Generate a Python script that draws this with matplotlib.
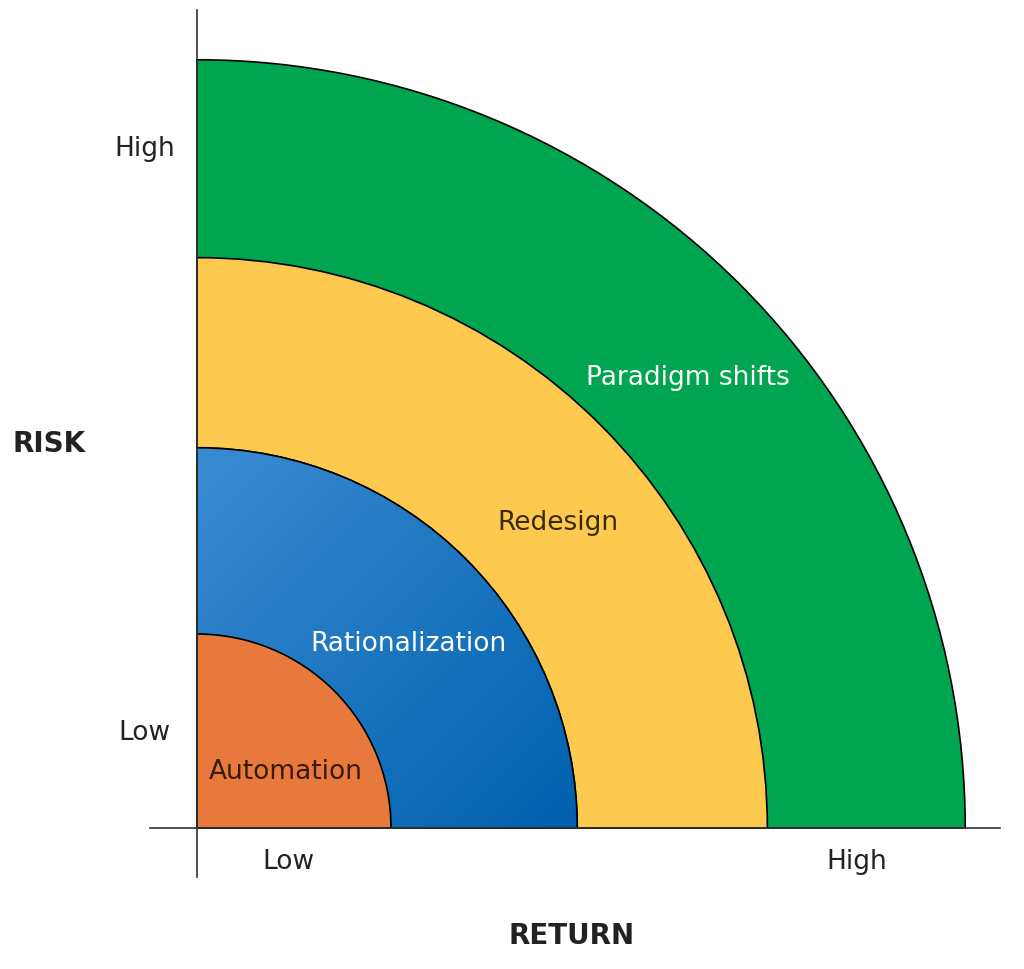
import matplotlib
matplotlib.use("Agg")
import matplotlib.pyplot as plt
import numpy as np
from matplotlib.patches import Wedge

categories = ["Automation", "Rationalization", "Redesign", "Paradigm shifts"]
radii = [1.0, 1.96, 2.94, 3.96]
colors = ["#E8793C", "#0066B3", "#FDCA4F", "#00A550"]
label_colors = ["#3a1a05", "white", "#3a2a00", "white"]
label_pos = [(0.46, 0.29), (1.09, 0.95), (1.86, 1.57), (2.53, 2.32)]
risk_ticks = ["Low", "High"]
risk_tick_y = [0.49, 3.5]
return_ticks = ["Low", "High"]
return_tick_x = [0.47, 3.4]

S = 194.0
fig = plt.figure(figsize=(10.24, 9.69), dpi=100)
ax = fig.add_axes([0, 0, 1, 1])
ax.set_xlim(-197 / S, (1024 - 197) / S)
ax.set_ylim(-141 / S, 828 / S)
ax.set_aspect("equal")
ax.axis("off")

for i in range(len(radii) - 1, -1, -1):
    w = Wedge((0, 0), radii[i], 0, 90, facecolor=colors[i], edgecolor="black", lw=1.2, zorder=2 + (3 - i))
    ax.add_patch(w)
    if categories[i] == "Rationalization":
        # gradient overlay
        n = 300
        xs = np.linspace(0, radii[i], n)
        X, Y = np.meshgrid(xs, xs)
        t = np.clip((X - Y + radii[i]) / (2 * radii[i]), 0, 1)
        c0 = np.array([0x3A, 0x8C, 0xD2]) / 255
        c1 = np.array([0x00, 0x60, 0xAE]) / 255
        img = c0[None, None, :] * (1 - t[..., None]) + c1[None, None, :] * t[..., None]
        im = ax.imshow(img, extent=[0, radii[i], 0, radii[i]], origin="lower", zorder=2 + (3 - i) + 0.1)
        clip = Wedge((0, 0), radii[i], 0, 90, transform=ax.transData)
        im.set_clip_path(clip)
        ax.add_patch(Wedge((0, 0), radii[i], 0, 90, facecolor="none", edgecolor="black", lw=1.2, zorder=2 + (3 - i) + 0.2))
    ax.text(*label_pos[i], categories[i], color=label_colors[i], fontsize=19, ha="center", va="center", zorder=20)

ax.plot([0, 0], [-0.253, 4.216], color="#333333", lw=1.2, zorder=30)
ax.plot([-0.242, 4.14], [0, 0], color="#333333", lw=1.2, zorder=30)

for y, t in zip(risk_tick_y, risk_ticks):
    ax.text(-0.27, y, t, fontsize=19, ha="center", va="center", color="#222222")
for x, t in zip(return_tick_x, return_ticks):
    ax.text(x, -0.175, t, fontsize=19, ha="center", va="center", color="#222222")
ax.text(-0.76, 1.98, "RISK", fontsize=20, fontweight="bold", ha="center", va="center", color="#222222")
ax.text(1.93, -0.556, "RETURN", fontsize=20, fontweight="bold", ha="center", va="center", color="#222222")

fig.savefig("out.png", dpi=100, facecolor="white")
